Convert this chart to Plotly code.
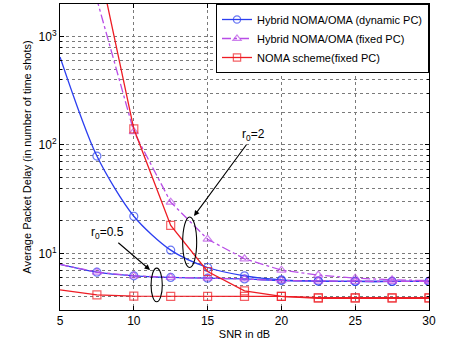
import plotly.graph_objects as go

# SNR grid (dB)
snr = [5, 7.5, 10, 12.5, 15, 17.5, 20, 22.5, 25, 27.5, 30]

# Average packet delay (time shots), r0 = 2
hybrid_dyn_r2 = [650, 79, 22, 10.7, 7.4, 6.2, 5.7, 5.55, 5.5, 5.5, 5.5]
hybrid_fix_r2 = [30000, 2200, 133, 29.7, 13.5, 8.9, 7.0, 6.3, 5.9, 5.7, 5.6]
noma_fix_r2 = [90000, 5600, 141, 18.1, 6.8, 4.5, 4.0, 3.85, 3.85, 3.85, 3.85]

# Average packet delay (time shots), r0 = 0.5
hybrid_dyn_r05 = [7.9, 6.7, 6.2, 6.0, 5.9, 5.8, 5.6, 5.55, 5.5, 5.5, 5.5]
hybrid_fix_r05 = [7.9, 6.7, 6.2, 6.0, 5.9, 5.8, 5.6, 5.55, 5.5, 5.5, 5.5]
noma_fix_r05 = [4.6, 4.13, 4.02, 4.0, 4.0, 4.0, 4.0, 3.9, 3.9, 3.9, 3.9]

x_ticks = [5, 10, 15, 20, 25, 30]
y_major_ticks = [10, 100, 1000]
y_major_text = ["10<sup>1</sup>", "10<sup>2</sup>", "10<sup>3</sup>"]

BLUE = "#2b3ef0"
MAG = "#b84de6"
RED = "#ee1c24"

# no marker at the first SNR point
msize = [0] + [8] * (len(snr) - 1)

series = [
    ("Hybrid NOMA/OMA (dynamic PC)", hybrid_dyn_r2, hybrid_dyn_r05, BLUE, "circle-open", "solid", "spline"),
    ("Hybrid NOMA/OMA (fixed PC)", hybrid_fix_r2, hybrid_fix_r05, MAG, "triangle-up-open", "dashdot", "linear"),
    ("NOMA scheme(fixed PC)", noma_fix_r2, noma_fix_r05, RED, "square-open", "solid", "linear"),
]

fig = go.Figure()
for name, r2, r05, col, sym, dash, shape in series:
    for vals, show in ((r2, True), (r05, False)):
        fig.add_trace(go.Scatter(
            x=snr, y=vals, name=name, showlegend=show, legendgroup=name,
            mode="lines+markers",
            line=dict(color=col, width=1.3, dash=dash, shape=shape, smoothing=0.8),
            marker=dict(symbol=sym, size=msize, color=col, line=dict(color=col, width=1.2)),
        ))

# Labels with arrows pointing to the grouped curves (log axis -> log10 coords)
ann_font = dict(family="Liberation Sans, Arial", size=12, color="black")
fig.add_annotation(x=14.08, y=1.344, ax=18.1, ay=2.09, axref="x", ayref="y",
                   xref="x", yref="y", text="r<sub>0</sub>=2", showarrow=True,
                   arrowhead=2, arrowsize=1, arrowwidth=1.1, arrowcolor="black",
                   font=ann_font, standoff=0, startstandoff=0)
fig.add_annotation(x=11.10, y=0.847, ax=8.2, ay=1.185, axref="x", ayref="y",
                   xref="x", yref="y", text="r<sub>0</sub>=0.5", showarrow=True,
                   arrowhead=2, arrowsize=1, arrowwidth=1.1, arrowcolor="black",
                   font=ann_font, standoff=0, startstandoff=0)

# Ellipses grouping the r0 = 0.5 and r0 = 2 curves
fig.add_shape(type="circle", xref="x", yref="y domain", x0=11.17, x1=11.93, y0=0.027, y1=0.137,
              line=dict(color="black", width=1.1))
fig.add_shape(type="circle", xref="x", yref="y domain", x0=13.31, x1=14.26, y0=0.139, y1=0.304,
              line=dict(color="black", width=1.1))

axis_common = dict(showline=True, mirror="ticks", linecolor="black", linewidth=1,
                   ticks="inside", ticklen=4, tickcolor="black",
                   showgrid=True, gridcolor="#7a7a7a", griddash="dot", gridwidth=1,
                   zeroline=False,
                   tickfont=dict(family="Liberation Sans, Arial", size=12, color="black"))

fig.update_xaxes(range=[5, 30], tickvals=x_ticks,
                 title=dict(text="SNR in dB", standoff=2,
                            font=dict(family="Liberation Sans, Arial", size=11, color="black")),
                 **axis_common)
fig.update_yaxes(type="log", range=[0.4771, 3.301], tickvals=y_major_ticks, ticktext=y_major_text,
                 minor=dict(dtick="D1", showgrid=True, gridcolor="#7a7a7a", griddash="dot",
                            gridwidth=1, ticks="inside", ticklen=2, tickcolor="black"),
                 title=dict(text="Average Packet Delay (in number of time shots)", standoff=4,
                            font=dict(family="Liberation Sans, Arial", size=11, color="black")),
                 **axis_common)

fig.update_layout(
    width=474, height=341,
    margin=dict(l=60, r=45, t=3, b=29),
    paper_bgcolor="white", plot_bgcolor="white",
    font=dict(family="Liberation Sans, Arial", size=11, color="black"),
    legend=dict(x=1, xanchor="right", y=1, yanchor="top",
                bgcolor="white", bordercolor="black", borderwidth=1,
                font=dict(size=11), tracegroupgap=0, itemwidth=30,
                traceorder="normal"),
)

fig.write_html("out.html")
